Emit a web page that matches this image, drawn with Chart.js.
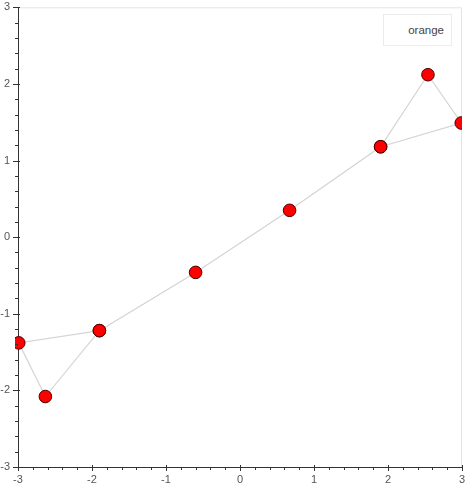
<!DOCTYPE html>
<html>
<head>
<meta charset="utf-8">
<script src="https://cdn.jsdelivr.net/npm/chart.js@4"></script>
<style>
  html, body { margin: 0; padding: 0; background: #fff; }
  #wrap { position: relative; width: 474px; height: 490px; }
  #legend {
    position: absolute; left: 383px; top: 14px; width: 67px; height: 30px;
    border: 1px solid #ececec; background: #fff;
    font: 11.5px "Liberation Sans", Arial, sans-serif; color: #444;
    text-align: right; line-height: 31px; box-sizing: content-box;
  }
  #legend span { margin-right: 7px; }
</style>
</head>
<body>
<div id="wrap">
  <canvas id="c" width="474" height="490"></canvas>
  <div id="legend"><span id="legtext"></span></div>
</div>
<script>
// Series name
const seriesName = 'orange';
// Point values, in the order the line visits them
const xValues = [-1.90, -2.99, -2.63, -1.90, -0.60, 0.67, 1.90, 2.54, 2.99, 1.90];
const yValues = [-1.22, -1.38, -2.08, -1.22, -0.46, 0.35, 1.18, 2.12, 1.49, 1.18];
// Axis ranges / tick labels
const xTicks = [-3, -2, -1, 0, 1, 2, 3];
const yTicks = [-3, -2, -1, 0, 1, 2, 3];
const minorPerMajor = 5;

document.getElementById('legtext').textContent = seriesName;

const points = xValues.map((x, i) => ({ x: x, y: yValues[i] }));

const axisColor = '#333333';

const tickPlugin = {
  id: 'ticksAndFrame',
  beforeDraw(chart) {
    const ctx = chart.ctx, a = chart.chartArea;
    ctx.save();
    ctx.strokeStyle = '#e3e3e3';
    ctx.lineWidth = 1;
    ctx.beginPath();
    ctx.moveTo(a.left, a.top + 0.5);
    ctx.lineTo(a.right - 0.5, a.top + 0.5);
    ctx.lineTo(a.right - 0.5, a.bottom);
    ctx.stroke();
    ctx.restore();
  },
  afterDraw(chart) {
    const ctx = chart.ctx, a = chart.chartArea;
    const xs = chart.scales.x, ys = chart.scales.y;
    ctx.save();
    ctx.strokeStyle = axisColor;
    ctx.lineWidth = 1;
    ctx.beginPath();
    for (let i = 0; i < xTicks.length; i++) {
      const v = xTicks[i];
      const px = Math.round(xs.getPixelForValue(v)) + 0.5;
      ctx.moveTo(px, a.bottom - 2);
      ctx.lineTo(px, a.bottom + 4);
      if (i < xTicks.length - 1) {
        const step = (xTicks[i + 1] - v) / minorPerMajor;
        for (let k = 1; k < minorPerMajor; k++) {
          const mp = Math.round(xs.getPixelForValue(v + k * step)) + 0.5;
          ctx.moveTo(mp, a.bottom);
          ctx.lineTo(mp, a.bottom + 3);
        }
      }
    }
    for (let i = 0; i < yTicks.length; i++) {
      const v = yTicks[i];
      const py = Math.round(ys.getPixelForValue(v)) + 0.5;
      ctx.moveTo(a.left - 5, py);
      ctx.lineTo(a.left + 2, py);
      if (i < yTicks.length - 1) {
        const step = (yTicks[i + 1] - v) / minorPerMajor;
        for (let k = 1; k < minorPerMajor; k++) {
          const mp = Math.round(ys.getPixelForValue(v + k * step)) + 0.5;
          ctx.moveTo(a.left - 3, mp);
          ctx.lineTo(a.left, mp);
        }
      }
    }
    ctx.stroke();
    ctx.restore();
  }
};

new Chart(document.getElementById('c'), {
  type: 'scatter',
  data: {
    datasets: [{
      label: seriesName,
      data: points,
      showLine: true,
      borderColor: '#d4d4d4',
      borderWidth: 1.2,
      pointRadius: 6.3,
      pointHoverRadius: 6.3,
      pointBackgroundColor: '#ff0000',
      pointBorderColor: '#4a0000',
      pointBorderWidth: 1,
      clip: { left: 3, top: 0, right: 0, bottom: 0 }
    }]
  },
  options: {
    responsive: false,
    animation: false,
    devicePixelRatio: 1,
    layout: { padding: { top: 6, right: 12, left: 0, bottom: 0 } },
    plugins: {
      legend: { display: false },
      tooltip: { enabled: false }
    },
    scales: {
      x: {
        type: 'linear',
        min: xTicks[0], max: xTicks[xTicks.length - 1],
        afterBuildTicks(scale) { scale.ticks = xTicks.map(v => ({ value: v })); },
        afterFit(scale) { scale.height = 23; },
        grid: { display: false, drawTicks: false },
        border: { display: true, color: axisColor, width: 1 },
        ticks: {
          padding: 6,
          color: '#555',
          font: { family: '"Liberation Sans", Arial, sans-serif', size: 11 },
          maxRotation: 0,
          autoSkip: false
        }
      },
      y: {
        type: 'linear',
        min: yTicks[0], max: yTicks[yTicks.length - 1],
        afterBuildTicks(scale) { scale.ticks = yTicks.map(v => ({ value: v })); },
        afterFit(scale) { scale.width = 18; },
        grid: { display: false, drawTicks: true, tickLength: 8 },
        border: { display: true, color: axisColor, width: 1 },
        ticks: {
          padding: 0,
          color: '#555',
          font: { family: '"Liberation Sans", Arial, sans-serif', size: 11 },
          autoSkip: false
        }
      }
    }
  },
  plugins: [tickPlugin]
});
</script>
</body>
</html>
